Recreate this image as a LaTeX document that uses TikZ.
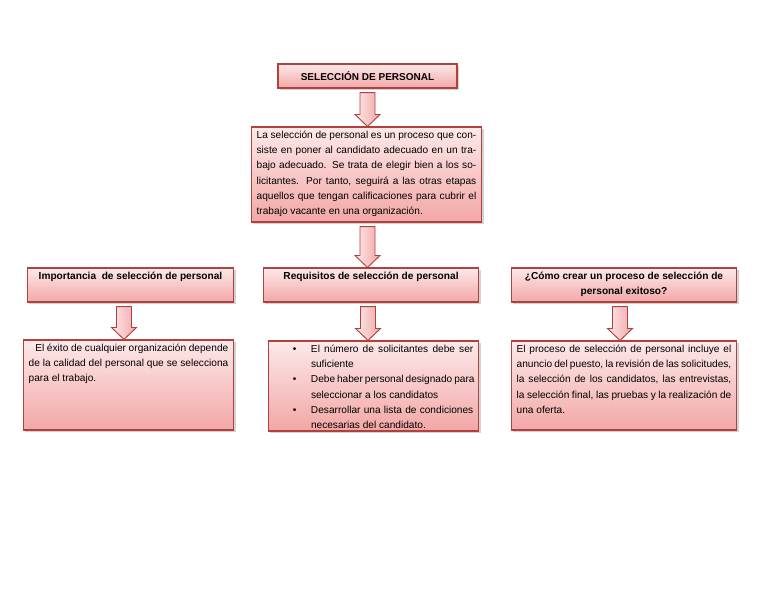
\documentclass[tikz,border=0pt]{standalone}
\usepackage{fontspec}
\setmainfont{Liberation Sans}
\usetikzlibrary{shadows,calc}
\definecolor{bord}{HTML}{B0413E}
\definecolor{pinkb}{HTML}{F2A7A6}
\definecolor{pinkt}{HTML}{FDE9E9}
\tikzset{
 box/.style={draw=bord,line width=0.8pt,top color=pinkt,bottom color=pinkb,
   drop shadow={opacity=0.35,shadow xshift=1.5pt,shadow yshift=-1.5pt},
   inner sep=0pt,font=\fontsize{7.6}{11.4}\selectfont},
 barrow/.style={draw=bord,line width=0.7pt,top color=pinkt,bottom color=pinkb,shading angle=90}
}
\newcommand{\bx}[6]{\node[box] (#1) at (#2,#3) {\vbox to #5\dimexpr0.75pt\relax{\hsize=#4\dimexpr0.75pt\relax\advance\hsize-8pt\kern3pt\hbox to\hsize{\hskip4pt\vtop{\advance\hsize-8pt\noindent\ignorespaces #6\par}\hss}\vss}};}
\newcommand{\barr}[3]{\path let \p1=(#1.south), \p2=(#2.north) in
 [barrow] (#3-7.5,{\y1-3pt}) -- (#3+7.5,{\y1-3pt}) -- (#3+7.5,{\y2+12*0.75pt}) -- (#3+12.5,{\y2+12*0.75pt}) -- (#3,{\y2}) -- (#3-12.5,{\y2+12*0.75pt}) -- (#3-7.5,{\y2+12*0.75pt}) -- cycle;}
\begin{document}
\begin{tikzpicture}[x=0.75pt,y=-0.75pt]
\useasboundingbox (0,0) rectangle (768,594);
\node[box,minimum width=179*0.75pt,minimum height=24*0.75pt,font=\fontsize{7.5}{9}\selectfont\bfseries] (t) at (367.5,76) {SELECCIÓN DE PERSONAL};
\bx{d}{366.5}{174.5}{241}{95}{La selección de personal es un proceso que consiste en poner al candidato adecuado en un trabajo adecuado. Se trata de elegir bien a los solicitantes. Por tanto, seguirá a las otras etapas aquellos que tengan calificaciones para cubrir el trabajo vacante en una organización.}
\bx{h1}{130.5}{285}{217}{34}{\centering\bfseries Importancia\ \ de selección de personal}
\bx{h2}{371}{285}{226}{34}{\centering\bfseries Requisitos de selección de personal}
\bx{h3}{624}{285}{236}{34}{\centering\bfseries\hyphenpenalty=10000 ¿Cómo crear un proceso de selección de personal exitoso?}
\bx{b1}{128.5}{385}{221}{90}{\kern5pt El éxito de cualquier organización depende de la calidad del personal que se selecciona para el trabajo.}
\bx{b2}{373.5}{386}{221}{90}{\leftskip=28pt\parindent=0pt
\leavevmode\llap{\textbullet\hspace{11pt}}El número de solicitantes debe ser suficiente\par
\leavevmode\llap{\textbullet\hspace{11pt}}Debe haber personal designado para seleccionar a los candidatos\par
\leavevmode\llap{\textbullet\hspace{11pt}}Desarrollar una lista de condiciones necesarias del candidato.}
\bx{b3}{624}{385.5}{236}{89}{El proceso de selección de personal incluye el anuncio del puesto, la revisión de las solicitudes, la selección de los candidatos, las entrevistas, la selección final, las pruebas y la realización de una oferta.}
\barr{t}{d}{367.5}
\barr{d}{h2}{367.5}
\barr{h1}{b1}{124}
\barr{h2}{b2}{368}
\barr{h3}{b3}{620}
\end{tikzpicture}
\end{document}
